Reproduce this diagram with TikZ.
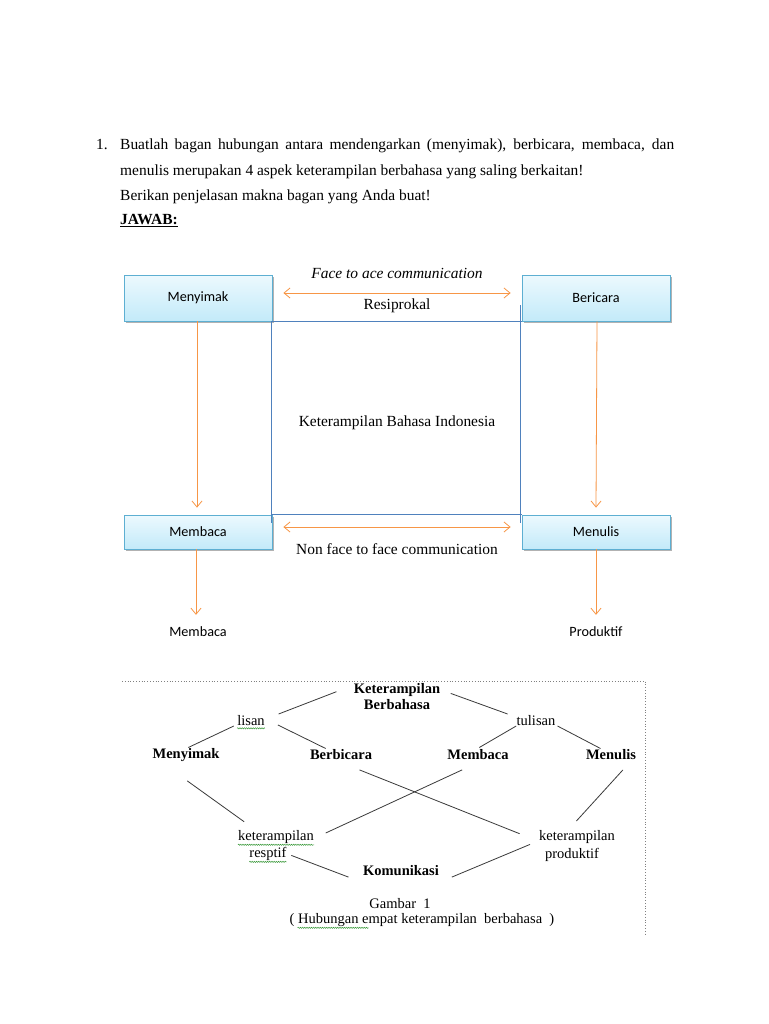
\documentclass[tikz,border=0pt]{standalone}
\usepackage{fontspec}
\setmainfont{Liberation Serif}
\newfontfamily\calfont{Carlito}
\usetikzlibrary{arrows.meta,shadows,decorations.pathmorphing,calc}
\definecolor{org}{HTML}{F79646}
\definecolor{blueln}{HTML}{4F81BD}
\definecolor{boxedge}{HTML}{5DAFD2}
\definecolor{boxtop}{HTML}{ECF9FE}
\definecolor{boxbot}{HTML}{C3EAF9}
\definecolor{inkline}{HTML}{3A3A3A}
\definecolor{spell}{HTML}{3C9A3C}
\begin{document}
\begin{tikzpicture}[x=1pt,y=-1pt,
  txt/.style={inner sep=0pt, font=\fontsize{15.45}{18}\selectfont},
  ltxt/.style={inner sep=0pt, font=\fontsize{14.5}{17}\selectfont},
  btxt/.style={inner sep=0pt, font=\fontsize{14.5}{17}\selectfont\bfseries},
  ctxt/.style={inner sep=0pt, font=\calfont\fontsize{14.2}{17}\selectfont},
  skillbox/.style={draw=boxedge, line width=0.8pt, top color=boxtop, bottom color=boxbot,
    minimum width=148pt, inner sep=0pt, font=\calfont\fontsize{14.2}{17}\selectfont,
    drop shadow={shadow xshift=1.5pt, shadow yshift=-2pt, fill=black, opacity=0.3}},
  arr/.style={draw=org, line width=0.8pt, -{Straight Barb[length=6pt,width=10pt]}},
  dbl/.style={draw=org, line width=0.8pt, {Straight Barb[length=6pt,width=10pt]}-{Straight Barb[length=6pt,width=10pt]}},
  bline/.style={draw=blueln, line width=0.9pt},
  link/.style={draw=inkline, line width=0.8pt},
  squig/.style={draw=spell, line width=0.5pt, decorate, decoration={snake, segment length=2.2pt, amplitude=0.6pt}}
]
\useasboundingbox (0,0) rectangle (768,1024);
\fill[white] (0,0) rectangle (768,1024);

% ---- question text ----
\node[txt, anchor=base east] (num) at (108,150) {1.};
\node[txt, anchor=base west] (q1) at (120,150) {\makebox[554pt][s]{Buatlah bagan hubungan antara mendengarkan (menyimak), berbicara, membaca, dan}};
\node[txt, anchor=base west] (q2) at (120,176) {menulis merupakan 4 aspek keterampilan berbahasa yang saling berkaitan!};
\node[txt, anchor=base west] (q3) at (120,201) {Berikan penjelasan makna bagan yang Anda buat!};
\node[txt, anchor=base west] (jaw) at (120,225) {\textbf{\underline{JAWAB:}}};

% ---- upper diagram ----
\node[skillbox, minimum height=46pt] (m1) at (198,298) {Menyimak};
\node[skillbox, minimum height=46pt] (m2) at (596,298) {Bericara};
\node[skillbox, minimum height=34pt] (m3) at (198,532) {Membaca};
\node[skillbox, minimum height=34pt] (m4) at (596,532) {Menulis};

\draw[bline] (m1.south east) -- (m2.south west);
\draw[bline] ($(m1.south east)+(-1,0)$) -- ($(m3.north east)+(-1,8)$);
\draw[bline] ($(m2.south west)+(-1,-16)$) -- ($(m4.north west)+(-1,8)$);
\draw[bline] (m3.north east) -- (m4.north west);

\node[txt, font=\fontsize{15.45}{18}\selectfont\itshape] (ftf) at (397,273) {Face to ace communication};
\node[txt] (res) at (397,306) {Resiprokal};
\node[txt] (kbi) at (397,423) {Keterampilan Bahasa Indonesia};
\node[txt] (nftf) at (397,549) {Non face to face communication};

\draw[dbl] ($(m1.east)+(11,-5)$) -- ($(m2.west)+(-11,-5)$);
\draw[dbl] ($(m3.east)+(11,-5)$) -- ($(m4.west)+(-11,-5)$);
\draw[arr] ($(m1.south)+(-1,0)$) -- ($(m3.north)+(-1,-7)$);
\draw[arr] ($(m2.south)+(1,0)$) -- ($(m4.north)+(0,-7)$);

\node[ctxt] (l1) at (198,632) {Membaca};
\node[ctxt] (l2) at (596,632) {Produktif};
\draw[arr] ($(m3.south)+(-2,0)$) -- ($(l1.north)+(-2,-12)$);
\draw[arr] (m4.south) -- ($(l2.north)+(0,-12)$);

% ---- lower diagram ----
\draw[dotted, draw=gray, line width=0.8pt] (122,681) -- (645,681) -- (645,935);

\node[btxt, align=center] (ket) at (397,697) {Keterampilan\\[-1pt]Berbahasa};
\node[ltxt] (lis) at (251,721) {lisan};
\node[ltxt] (tul) at (536,721) {tulisan};
\node[btxt] (meny) at (186,755) {Menyimak};
\node[btxt] (berb) at (341,755) {Berbicara};
\node[btxt] (memb) at (478,755) {Membaca};
\node[btxt] (menu) at (611,755) {Menulis};
\node[ltxt] (kr1) at (276,837) {keterampilan};
\node[ltxt] (kr2) at (268,854) {resptif};
\node[ltxt] (kp1) at (577,837) {keterampilan};
\node[ltxt] (kp2) at (572,855) {produktif};
\node[btxt] (kom) at (401,871) {Komunikasi};
\node[ltxt] (gam) at (400,904) {Gambar\ \ 1};
\node[ltxt] (cap) at (422,920) {( Hubungan empat keterampilan\ \ berbahasa\ \ )};

\draw[squig] ($(lis.south west)+(0,2)$) -- ($(lis.south east)+(0,2)$);
\draw[squig] ($(kr1.south west)+(0,1)$) -- ($(kr1.south east)+(0,1)$);
\draw[squig] ($(kr2.south west)+(0,1)$) -- ($(kr2.south east)+(0,1)$);
\draw[squig] ($(cap.south west)+(8,1)$) -- ($(cap.south west)+(79,1)$);

\draw[link] (278.6,714) -- (336.4,691.7);
\draw[link] (450.7,693.4) -- (507.6,714);
\draw[link] (188.3,747.5) -- (233.8,726);
\draw[link] (277.9,725) -- (325.7,748.5);
\draw[link] (479.3,747.5) -- (516.2,726);
\draw[link] (557.5,726) -- (600.5,748.5);
\draw[link] (187.3,780.9) -- (244.1,821.7);
\draw[link] (359.5,769.9) -- (519.6,833.7);
\draw[link] (462.1,769.9) -- (325.7,833);
\draw[link] (622.9,769.9) -- (576.4,821);
\draw[link] (291.3,855.4) -- (348.5,877.1);
\draw[link] (451.8,877.1) -- (530,844.4);
\end{tikzpicture}
\end{document}
